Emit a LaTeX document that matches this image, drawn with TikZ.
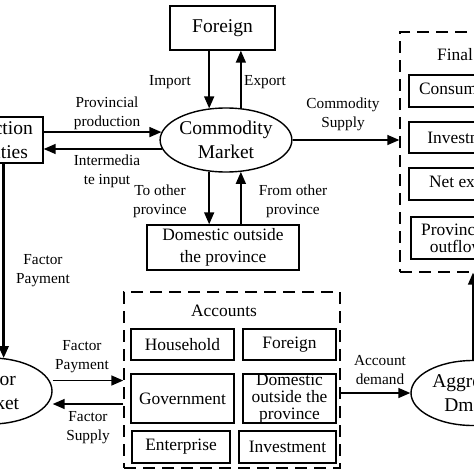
\documentclass[tikz,border=0pt]{standalone}
\usepackage{fontspec}
\setmainfont{Liberation Serif}
\usetikzlibrary{shapes.geometric,arrows.meta}
\newcommand\bigf{\fontsize{19.5}{24}\selectfont}
\newcommand\midf{\fontsize{17.4}{17}\selectfont}
\newcommand\domf{\fontsize{17.4}{22}\selectfont}
\newcommand\labf{\fontsize{15.3}{19}\selectfont}
\tikzset{
  box/.style={draw, line width=1.4pt, inner sep=0pt, align=center},
  ell/.style={draw, ellipse, line width=1.4pt, inner sep=0pt, align=center, font=\bigf},
  lab/.style={font=\labf, align=center, inner sep=0pt},
  arr/.style={line width=1.5pt, -{Triangle[length=12pt,width=10pt]}},
  dbox/.style={draw, dash pattern=on 12pt off 7pt, line width=1.4pt, inner sep=0pt},
}
\begin{document}
\begin{tikzpicture}[x=1pt,y=-1pt]
\useasboundingbox[fill=white] (0,0) rectangle (474,474);
% top part
\node[box, font=\bigf, minimum width=105pt, minimum height=44pt] (foreign) at (222.5,28) {Foreign};
\node[ell, minimum width=128pt, minimum height=64pt] (comm) at (226,140) {Commodity\\Market};
\node[box, font=\bigf, minimum width=106pt, minimum height=46pt] (prod) at (-10,140) {Production\\Activities};
\node[box, font=\domf, minimum width=152pt, minimum height=45pt] (dom) at (223,247.5) {Domestic outside\\the province};
% final demand
\node[dbox, minimum width=132pt, minimum height=240pt] (fin) at (466,152) {};
\node[font=\midf, anchor=west, inner sep=0pt] (fintitle) at (437,55) {Final demand};
\node[box, font=\midf, minimum width=114pt, minimum height=32pt] (cons) at (466,91) {Consumption};
\node[box, font=\midf, minimum width=114pt, minimum height=31pt] (inv) at (466,137.5) {Investment};
\node[box, font=\midf, minimum width=114pt, minimum height=32pt] (nex) at (466,184) {Net export};
\node[box, font=\midf, minimum width=92pt, minimum height=42pt] (pout) at (457,238) {Provincial\\outflow};
% factor market
\node[ell, minimum width=122pt, minimum height=66pt] (fm) at (-9,391) {Factor\\Market};
% accounts
\node[dbox, minimum width=216pt, minimum height=176pt] (acc) at (232,380) {};
\node[font=\midf, inner sep=0pt] (acctitle) at (224,311) {Accounts};
\node[box, font=\midf, minimum width=103pt, minimum height=31pt] (hh) at (182.5,344.5) {Household};
\node[box, font=\midf, minimum width=93pt, minimum height=31pt] (afor) at (289.5,344.5) {Foreign};
\node[box, font=\midf, minimum width=103pt, minimum height=49pt] (gov) at (182.5,398.5) {Government};
\node[box, font=\midf, minimum width=93pt, minimum height=49pt] (adom) at (289.5,398.5) {Domestic\\outside the\\province};
\node[box, font=\midf, minimum width=98pt, minimum height=32pt] (ent) at (181,447) {Enterprise};
\node[box, font=\midf, minimum width=97pt, minimum height=32pt] (ainv) at (287.5,447) {Investment};
% aggregate demand
\node[ell, minimum width=124pt, minimum height=65pt] (agg) at (473,393) {Aggregate\\Dmand};
% labels
\node[lab] (limp) at (170,82) {Import};
\node[lab] (lexp) at (265,82) {Export};
\node[lab] (lpp) at (107,113.5) {Provincial\\production};
\node[lab] (lii) at (107,171.5) {Intermedia\\te input};
\node[lab] (lto) at (160,201.5) {To other\\province};
\node[lab] (lfrom) at (293,201.5) {From other\\province};
\node[lab] (lcs) at (343,114.5) {Commodity\\Supply};
\node[lab] (lfp1) at (43,270.5) {Factor\\Payment};
\node[lab] (lfp2) at (82,356.5) {Factor\\Payment};
\node[lab] (lfs) at (88,428) {Factor\\Supply};
\node[lab] (lad) at (380,370.5) {Account\\demand};
% helper points
\coordinate (fpy) at (0,380.5);
\coordinate (fsy) at (0,404);
\coordinate (fmC) at (fm.69.7);
% connectors
\draw[arr] (foreign.south -| comm.118.9) -- (comm.118.9);
\draw[arr] (comm.65.8) -- (comm.65.8 |- foreign.south);
\draw[arr] (prod.east |- comm.173.6) -- (comm.173.6);
\draw[arr] (comm.-172.6) -- (prod.east |- comm.-172.6);
\draw[arr] (comm.-118.9) -- (comm.-118.9 |- dom.north);
\draw[arr] (dom.north -| comm.-65.8) -- (comm.-65.8);
\draw[arr] (comm.east) -- (comm.east -| fin.west);
\draw[arr, line width=2.4pt] (prod.south -| fmC) -- (fmC);
\draw[arr] (fm.east |- fpy) -- (acc.west |- fpy);
\draw[arr] (acc.west |- fsy) -- (fm.east |- fsy);
\draw[arr] (acc.east |- agg.west) -- (agg.west);
\draw[arr] (agg.north) -- (agg.north |- fin.south);
\end{tikzpicture}
\end{document}
